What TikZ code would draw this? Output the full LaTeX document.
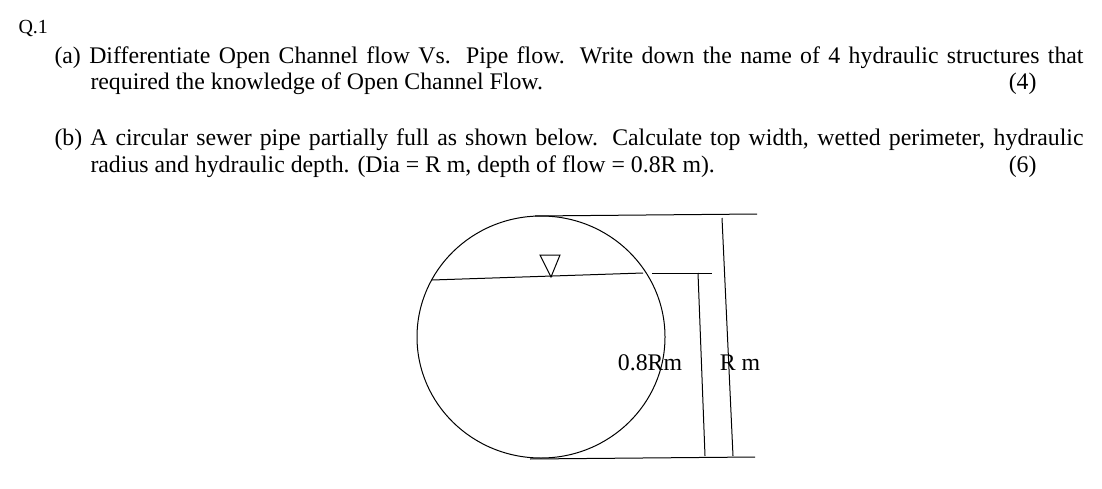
\documentclass[tikz,border=0pt]{standalone}
\usepackage{fontspec}
\setmainfont{Liberation Serif}
\begin{document}
\begin{tikzpicture}[x=1pt,y=-1pt,line width=1pt,
  txt/.style={anchor=base west,inner sep=0pt,font=\fontsize{23.8}{26}\selectfont},
  txr/.style={anchor=base east,inner sep=0pt,font=\fontsize{23.8}{26}\selectfont}]
\useasboundingbox (0,0) rectangle (1102,489);
\node[txt,font=\fontsize{20}{22}\selectfont] (q) at (18,34) {Q.1};
\node[txt] (a1) at (54,64) {\makebox[1029pt][s]{(a) Differentiate Open Channel flow Vs. Pipe flow. Write down the name of 4 hydraulic structures that}};
\node[txt] (a2) at (90,90) {required the knowledge of Open Channel Flow.};
\node[txr] (a3) at (1037,90) {(4)};
\node[txt] (b1) at (54,146) {\makebox[1029pt][s]{(b) A circular sewer pipe partially full as shown below. Calculate top width, wetted perimeter, hydraulic}};
\node[txt] (b2) at (90,172) {radius and hydraulic depth. (Dia = R m, depth of flow = 0.8R m).};
\node[txr] (b3) at (1037,172) {(6)};
\draw (541,337) ellipse [x radius=124, y radius=121];
\coordinate (t1) at (535,216); \coordinate (t2) at (757,214);
\coordinate (u1) at (530,459); \coordinate (u2) at (755,457);
\coordinate (w1) at (432,280); \coordinate (w2) at (643,273);
\draw (t1) -- (t2); \draw (u1) -- (u2); \draw (w1) -- (w2);
\draw (540,255) -- (560,255) -- (551,277) -- cycle;
\draw (652,273) -- (712,273);
\draw (698,273) -- (705,456);
\draw (722,218) -- (733,456);
\node[txt,anchor=base] (l1) at (650,370) {0.8Rm};
\node[txt,anchor=base] (l2) at (740,370) {R m};
\end{tikzpicture}
\end{document}
